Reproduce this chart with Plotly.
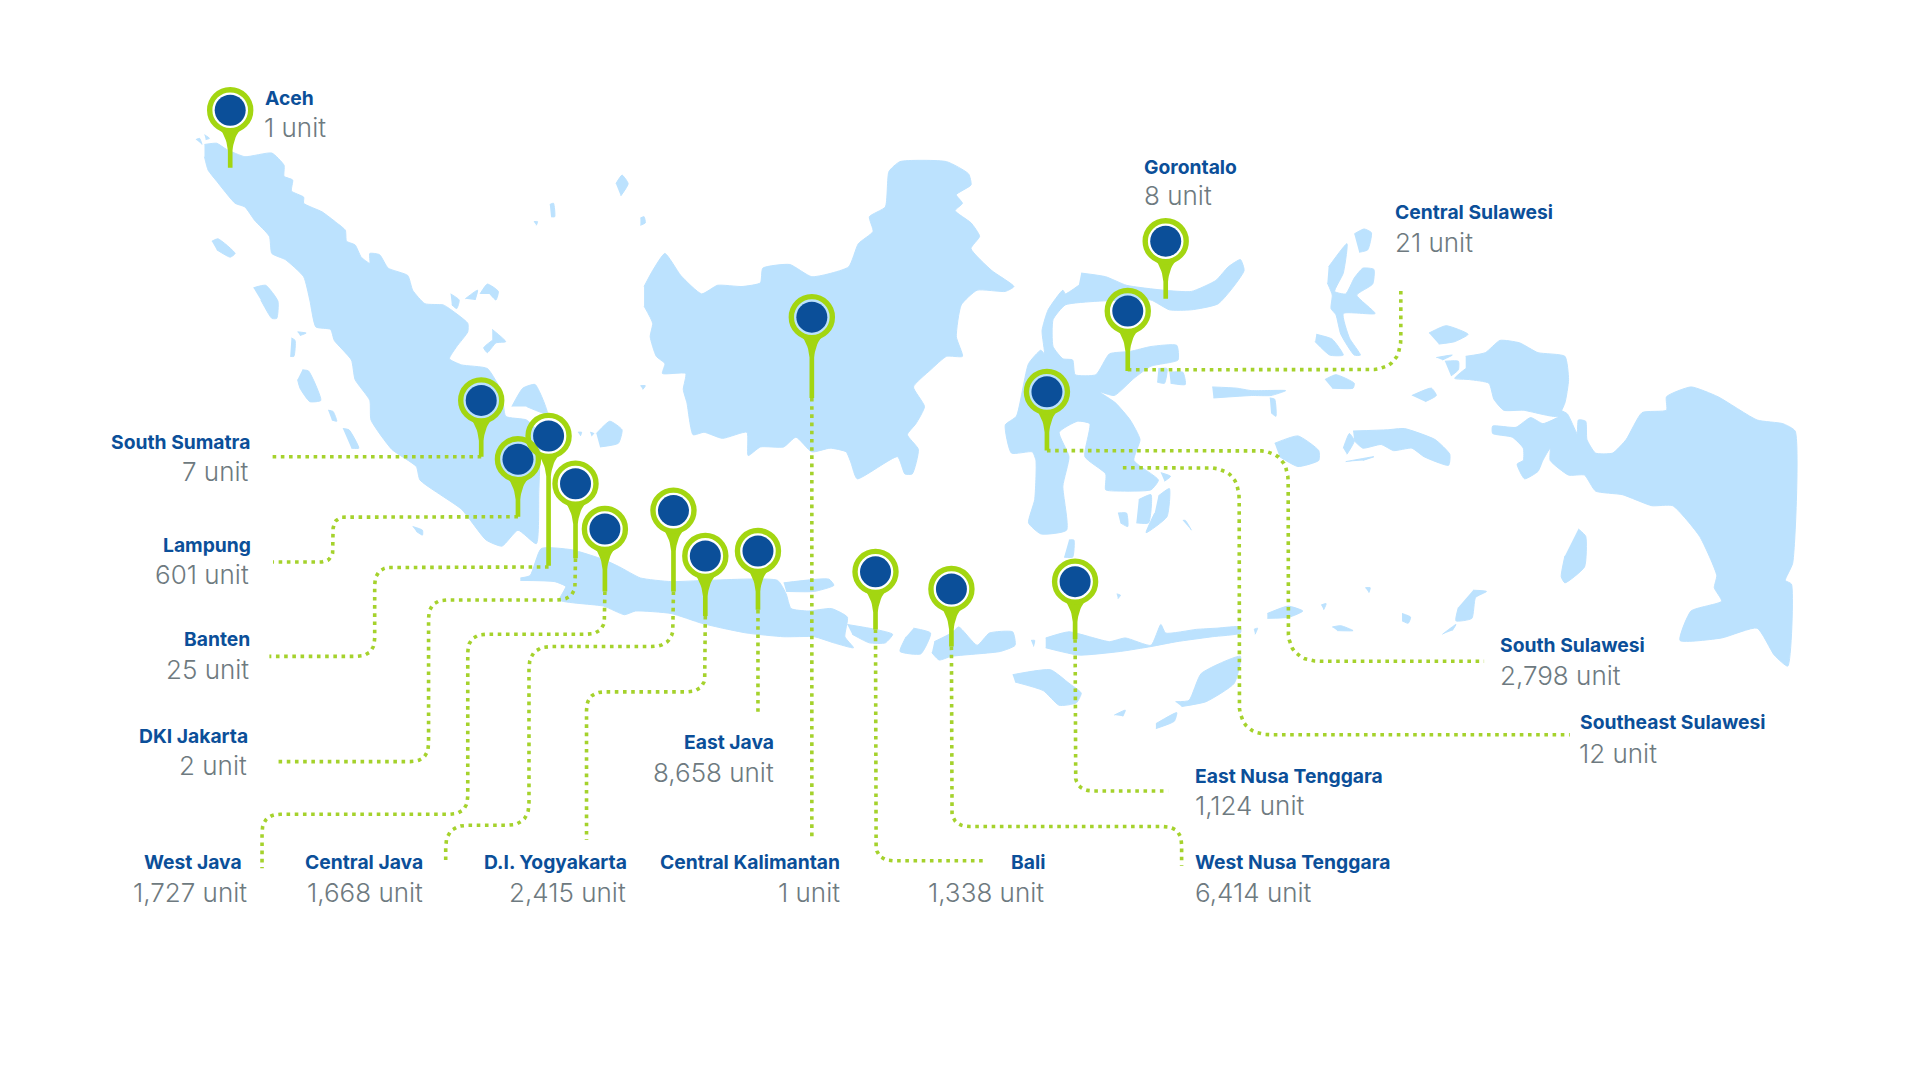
import numpy as np
import plotly.graph_objects as go

# picture units: the axes run 0-1568 by 882-0 and fill the whole page
LAND = "#bce2fe"
PIN_GREEN = "#a3d611"
DOT_GREEN = "#a5d22c"
BLUE = "#0b4f99"
GREY = "#6e7a80"

provinces = ["Aceh", "South Sumatra", "Lampung", "Banten", "DKI Jakarta", "West Java",
             "Central Java", "D.I. Yogyakarta", "East Java", "Central Kalimantan", "Bali",
             "West Nusa Tenggara", "East Nusa Tenggara", "South Sulawesi",
             "Southeast Sulawesi", "Central Sulawesi", "Gorontalo"]
units = ["1 unit", "7 unit", "601 unit", "25 unit", "2 unit", "1,727 unit", "1,668 unit",
         "2,415 unit", "8,658 unit", "1 unit", "1,338 unit", "6,414 unit", "1,124 unit",
         "2,798 unit", "12 unit", "21 unit", "8 unit"]
name_x = [215, 206, 207, 206, 204, 199, 347, 514, 634, 688, 855, 974, 974, 1223, 1289, 1138, 933]
value_x = [214, 205, 205, 205, 203, 203, 347, 513, 634, 688, 854, 974, 974, 1223, 1288, 1138, 933]
name_y = [80, 361, 445, 522, 601, 704, 704, 704, 606, 704, 704, 704, 634, 527, 590, 173, 136]
value_y = [104, 385, 469, 547, 625, 729, 729, 729, 631, 729, 729, 729, 658, 552, 615, 198, 160]
label_side = ["left", "right", "right", "right", "right", "right", "right", "right", "right",
              "right", "right", "left", "left", "left", "left", "left", "left"]

# Southeast Sulawesi has no pin of its own in the picture, so None here
pin_x = [188, 393, 423, 448, 470, 494, 550, 576, 619, 663, 715, 777, 878, 855, None, 921, 952]
pin_y = [90, 327, 375, 356, 395, 432, 417, 454, 450, 259, 467, 481, 475, 320, None, 254, 197]
pin_tip = [137, 373, 422, 462, 456, 483, 483, 503, 498, 325, 514, 528, 522, 368, None, 303, 244]

# dotted leaders: corner points, and how round the corners are
leaders = {
    "South Sumatra": ([(393, 373), (221, 373)], 1),
    "Lampung": ([(423, 422), (272, 422), (272, 459), (223, 459)], 11),
    "Banten": ([(448, 463), (306, 463), (306, 536), (220, 536)], 15),
    "DKI Jakarta": ([(470, 456), (470, 490), (350, 490), (350, 622), (224, 622)], 15),
    "West Java": ([(494, 483), (494, 518), (382, 518), (382, 665), (214, 665), (214, 709)], 15),
    "Central Java": ([(550, 483), (550, 528), (432, 528), (432, 674), (364, 674), (364, 704)], 18),
    "D.I. Yogyakarta": ([(576, 503), (576, 565), (479, 565), (479, 686)], 15),
    "East Java": ([(619, 498), (619, 583)], 1),
    "Central Kalimantan": ([(663, 325), (663, 686)], 1),
    "Bali": ([(715, 514), (715, 703), (804, 703)], 15),
    "West Nusa Tenggara": ([(777, 528), (777, 675), (965, 675), (965, 707)], 15),
    "East Nusa Tenggara": ([(878, 522), (878, 646), (954, 646)], 15),
    "South Sulawesi": ([(855, 368), (1052, 368), (1052, 540), (1212, 540)], 26),
    "Southeast Sulawesi": ([(917, 382), (1012, 382), (1012, 600), (1282, 600)], 26),
    "Central Sulawesi": ([(921, 302), (1144, 302), (1144, 236)], 26),
}

# coastlines
sumatra = [(167, 118), (177, 117), (185, 122), (200, 128), (222, 125), (232, 135), (232, 144),
           (239, 147), (238, 156), (248, 161), (248, 166), (263, 173), (275, 182), (282, 188),
           (283, 197), (290, 200), (295, 210), (302, 215), (302, 207), (310, 208), (317, 219),
           (333, 225), (337, 237), (347, 248), (362, 249), (367, 252), (382, 264), (382, 271),
           (373, 283), (367, 293), (377, 298), (398, 301), (410, 321), (413, 340), (430, 343),
           (440, 354), (440, 403), (438, 444), (423, 433), (410, 446), (397, 441), (377, 416),
           (343, 392), (340, 381), (320, 367), (303, 343), (302, 327), (290, 310), (287, 294),
           (273, 278), (270, 269), (258, 267), (253, 245), (248, 226), (233, 212), (222, 207),
           (220, 193), (208, 180), (200, 169), (192, 166), (177, 148), (170, 139), (167, 128)]
java = [(425, 472), (433, 470), (442, 448), (467, 449), (493, 457), (506, 463), (523, 472),
        (548, 475), (577, 474), (635, 474), (642, 485), (646, 497), (660, 499), (679, 497),
        (692, 504), (690, 520), (697, 529), (681, 525), (665, 520), (640, 520), (610, 517),
        (590, 513), (573, 509), (548, 501), (519, 499), (510, 502), (493, 495), (457, 490),
        (462, 479), (453, 475), (425, 474)]
borneo = [(526, 234), (533, 221), (543, 207), (556, 225), (573, 240), (586, 233), (606, 234),
          (621, 231), (623, 219), (645, 216), (663, 226), (693, 218), (701, 199), (713, 189),
          (710, 177), (723, 169), (726, 140), (735, 132), (773, 132), (791, 142), (793, 151),
          (781, 159), (786, 166), (780, 172), (793, 182), (800, 193), (793, 203), (810, 221),
          (828, 234), (821, 238), (798, 237), (785, 249), (781, 275), (786, 291), (773, 291),
          (760, 302), (746, 316), (755, 332), (748, 346), (741, 355), (750, 367), (745, 387),
          (739, 387), (733, 373), (700, 391), (695, 378), (691, 369), (678, 366), (663, 369),
          (650, 357), (640, 365), (621, 365), (611, 372), (610, 353), (590, 358), (575, 353),
          (566, 355), (561, 329), (558, 318), (560, 305), (541, 305), (543, 297), (536, 291),
          (531, 275), (533, 264), (526, 250)]
sulawesi = [(883, 223), (903, 226), (920, 233), (950, 237), (973, 238), (993, 229), (1003, 218),
            (1013, 212), (1016, 221), (995, 248), (973, 253), (955, 253), (940, 245), (923, 245),
            (896, 246), (870, 249), (860, 261), (860, 283), (868, 293), (876, 294), (878, 306),
            (895, 306), (906, 289), (923, 287), (940, 283), (961, 282), (962, 294), (940, 299),
            (926, 309), (910, 323), (898, 320), (911, 329), (923, 343), (931, 359), (926, 376),
            (946, 392), (940, 400), (913, 401), (903, 400), (903, 387), (886, 373), (890, 346),
            (880, 344), (865, 353), (873, 373), (868, 397), (871, 433), (850, 436), (840, 427),
            (845, 408), (846, 376), (843, 369), (826, 370), (821, 347), (830, 340), (840, 297),
            (850, 286), (853, 289), (851, 270), (856, 253), (868, 237), (870, 240), (881, 233)]
papua = [(1272, 334), (1280, 338), (1288, 354), (1289, 343), (1295, 344), (1296, 359), (1303, 370),
         (1317, 370), (1328, 359), (1341, 337), (1361, 335), (1361, 324), (1381, 316), (1403, 324),
         (1435, 343), (1456, 346), (1466, 352), (1464, 460), (1458, 474), (1463, 477), (1460, 544),
         (1449, 535), (1435, 513), (1406, 521), (1372, 523), (1381, 499), (1406, 491), (1400, 480),
         (1402, 470), (1388, 438), (1366, 413), (1349, 413), (1325, 404), (1303, 401), (1294, 388),
         (1281, 388), (1266, 376), (1266, 366), (1260, 376), (1256, 385), (1245, 391), (1239, 379),
         (1244, 376), (1244, 366), (1235, 357), (1219, 354), (1219, 348), (1238, 349), (1250, 341),
         (1260, 346), (1272, 341)]
bird_head = [(1197, 291), (1213, 288), (1225, 278), (1241, 280), (1256, 288), (1278, 291), (1281, 310),
             (1278, 329), (1272, 340), (1244, 335), (1228, 335), (1220, 326), (1216, 313), (1200, 310),
             (1188, 309), (1197, 301)]
halmahera = [(1085, 218), (1100, 199), (1097, 223), (1090, 238), (1099, 240), (1106, 227), (1113, 219),
             (1122, 220), (1121, 232), (1108, 241), (1123, 256), (1097, 256), (1102, 276), (1111, 290),
             (1106, 290), (1095, 273), (1091, 257), (1087, 252), (1088, 241), (1084, 231)]
flores = [(854, 521), (873, 516), (906, 524), (919, 521), (940, 527), (948, 510), (952, 517), (977, 514),
          (994, 513), (1013, 512), (1013, 517), (990, 520), (961, 524), (940, 528), (915, 532), (881, 535),
          (854, 529)]
sumbawa = [(763, 524), (777, 517), (783, 512), (798, 527), (808, 517), (827, 516), (829, 527), (817, 532),
           (777, 536), (767, 539), (761, 533)]
seram = [(1105, 352), (1133, 351), (1147, 350), (1172, 359), (1184, 371), (1183, 380), (1163, 373),
         (1153, 366), (1138, 368), (1128, 363), (1113, 366), (1106, 360)]
sula = [(990, 316), (1010, 317), (1022, 319), (1050, 319), (1038, 323), (1022, 323), (991, 325)]

small_islands = [
    [(173, 197), (178, 195), (192, 207), (188, 210), (177, 204)],
    [(207, 235), (217, 233), (227, 246), (226, 260), (222, 260), (213, 245)],
    [(238, 276), (241, 278), (240, 291), (237, 291)],
    [(243, 271), (250, 272), (245, 274)],
    [(247, 302), (252, 303), (262, 327), (253, 328), (245, 317), (243, 310)],
    [(268, 335), (272, 336), (275, 344), (271, 343)],
    [(280, 350), (285, 351), (293, 366), (287, 366)],
    [(160, 114), (163, 113), (165, 118)],
    [(167, 110), (171, 113), (168, 114)],
    [(392, 240), (398, 232), (407, 238), (405, 245), (400, 240)],
    [(368, 240), (375, 245), (373, 252), (369, 249)],
    [(380, 244), (390, 237), (388, 245)],
    [(402, 269), (413, 279), (405, 280), (398, 288), (395, 284), (402, 278)],
    [(418, 332), (427, 317), (437, 314), (447, 338), (430, 332)],
    [(487, 354), (498, 344), (508, 351), (505, 362), (490, 365)],
    [(472, 353), (475, 353), (474, 356)],
    [(482, 353), (485, 354), (483, 356)],
    [(503, 150), (508, 143), (513, 150), (507, 160)],
    [(449, 167), (452, 166), (453, 177), (450, 177)],
    [(436, 181), (439, 181), (438, 184)],
    [(337, 430), (345, 433), (345, 437), (340, 434)],
    [(523, 178), (526, 177), (527, 182), (523, 184)],
    [(523, 315), (527, 315), (525, 318)],
    [(640, 476), (677, 473), (681, 478), (665, 483), (642, 483)],
    [(692, 510), (715, 514), (729, 518), (723, 525), (710, 525), (696, 518)],
    [(746, 513), (760, 517), (752, 534), (735, 532), (740, 520)],
    [(842, 523), (845, 523), (844, 528)],
    [(827, 551), (858, 547), (873, 558), (883, 566), (879, 574), (865, 576), (852, 564), (829, 557)],
    [(960, 573), (971, 572), (981, 550), (1013, 536), (1008, 558), (985, 573), (965, 577)],
    [(944, 591), (961, 582), (959, 589), (944, 595)],
    [(910, 584), (919, 580), (917, 585)],
    [(873, 441), (877, 441), (876, 455), (869, 455)],
    [(912, 485), (915, 486), (913, 489)],
    [(1035, 501), (1052, 495), (1064, 499), (1053, 504), (1035, 505)],
    [(1106, 191), (1114, 187), (1120, 190), (1117, 204), (1110, 206)],
    [(1075, 273), (1088, 277), (1097, 290), (1086, 290), (1074, 279)],
    [(1167, 272), (1181, 266), (1199, 273), (1188, 279), (1175, 281)],
    [(1180, 295), (1191, 295), (1191, 302), (1185, 307)],
    [(1173, 292), (1186, 290), (1178, 294)],
    [(1289, 432), (1295, 438), (1294, 463), (1278, 476), (1275, 471), (1278, 454)],
    [(1203, 482), (1214, 483), (1205, 488), (1202, 505), (1189, 507), (1191, 496)],
    [(1178, 518), (1189, 510), (1186, 515)],
    [(1145, 501), (1152, 504), (1150, 509), (1145, 507)],
    [(1115, 480), (1119, 480), (1118, 484)],
    [(1079, 494), (1083, 493), (1081, 498)],
    [(1088, 512), (1095, 511), (1105, 515), (1092, 515)],
    [(1024, 514), (1027, 513), (1025, 518)],
    [(1097, 366), (1102, 354), (1106, 360), (1100, 371)],
    [(1099, 377), (1122, 373), (1113, 376)],
    [(1041, 362), (1060, 356), (1077, 368), (1077, 376), (1060, 381), (1045, 373)],
    [(1082, 310), (1091, 306), (1106, 313), (1105, 317), (1088, 317)],
    [(1153, 323), (1169, 317), (1173, 323), (1164, 328)],
    [(1037, 325), (1041, 326), (1042, 340), (1038, 337)],
    [(913, 419), (920, 419), (921, 430), (915, 427)],
    [(930, 408), (940, 404), (938, 427), (928, 427)],
    [(946, 405), (955, 399), (953, 422), (936, 435), (943, 419)],
    [(948, 386), (956, 389), (951, 393)],
    [(946, 301), (953, 301), (951, 313), (945, 312)],
    [(955, 304), (966, 304), (968, 314), (956, 313)],
    [(966, 425), (968, 425), (973, 433)],
]


def rounded(points, radius):
    # replace each corner of a leader by a quarter-ish curve
    xs, ys = [points[0][0]], [points[0][1]]
    for before, corner, after in zip(points, points[1:], points[2:]):
        p0, p1, p2 = np.array(before, float), np.array(corner, float), np.array(after, float)
        a = p1 + (p0 - p1) / np.linalg.norm(p0 - p1) * radius
        b = p1 + (p2 - p1) / np.linalg.norm(p2 - p1) * radius
        for t in np.linspace(0, 1, 12):
            q = (1 - t) ** 2 * a + 2 * t * (1 - t) * p1 + t ** 2 * b
            xs.append(q[0])
            ys.append(q[1])
    xs.append(points[-1][0])
    ys.append(points[-1][1])
    return xs, ys


def pin_tail(cx, cy, tip):
    # the neck under the ring, narrowing into the stem
    arc = np.radians(np.linspace(-42, 42, 15))
    neck = np.linspace(0, 1, 12)
    rim_x, rim_y = 16.7 * np.sin(arc), 16.7 * np.cos(arc)
    right_x = (1 - neck) ** 2 * rim_x[-1] + 2 * neck * (1 - neck) * 3 + neck ** 2 * 1.9
    right_y = (1 - neck) ** 2 * rim_y[-1] + 2 * neck * (1 - neck) * 20 + neck ** 2 * 33
    xs = list(cx + rim_x) + list(cx + right_x) + [cx + 1.9, cx - 1.9] + list(cx - right_x[::-1])
    ys = list(cy + rim_y) + list(cy + right_y) + [tip, tip] + list(cy + right_y[::-1])
    return xs, ys


fig = go.Figure()

for island in [sumatra, java, borneo, sulawesi, papua, bird_head, halmahera, flores, sumbawa,
               seram, sula] + small_islands:
    fig.add_trace(go.Scatter(
        x=[p[0] for p in island],
        y=[p[1] for p in island],
        mode="lines",
        fill="toself",
        fillcolor=LAND,
        line=dict(color=LAND, width=1, shape="spline", smoothing=0.5),
        hoverinfo="skip",
    ))

for name, (corners, radius) in leaders.items():
    xs, ys = rounded(corners, radius)
    fig.add_trace(go.Scatter(
        x=xs, y=ys, mode="lines",
        line=dict(color=DOT_GREEN, width=3.6, dash="3.6px,4.6px"),
        hoverinfo="skip",
    ))

for name, x, y, tip in zip(provinces, pin_x, pin_y, pin_tip):
    if x is None:
        continue
    xs, ys = pin_tail(x, y, tip)
    fig.add_trace(go.Scatter(
        x=xs, y=ys, mode="lines", fill="toself", fillcolor=PIN_GREEN,
        line=dict(width=0), hoverinfo="skip",
    ))
    fig.add_trace(go.Scatter(
        x=[x], y=[y], mode="markers",
        marker=dict(symbol="circle-open", size=41, color=PIN_GREEN, line=dict(color=PIN_GREEN, width=5.4)),
        hoverinfo="skip",
    ))
    fig.add_trace(go.Scatter(
        x=[x], y=[y], mode="markers",
        marker=dict(size=31, color=BLUE),
        name=name,
    ))

rows = zip(provinces, units, name_x, value_x, name_y, value_y, label_side)
for name, unit, x1, x2, y1, y2, side in rows:
    fig.add_annotation(x=x1, y=y1, text=name, showarrow=False, xanchor=side, yanchor="middle",
                       font=dict(family="Inter", size=19.3, color=BLUE, weight=700))
    fig.add_annotation(x=x2, y=y2, text=unit, showarrow=False, xanchor=side, yanchor="middle",
                       font=dict(family="Inter", size=26, color=GREY, weight=300))

fig.update_layout(
    width=1920,
    height=1080,
    margin=dict(l=0, r=0, t=0, b=0),
    paper_bgcolor="white",
    plot_bgcolor="white",
    showlegend=False,
    xaxis=dict(range=[0, 1568], visible=False),
    yaxis=dict(range=[882, 0], visible=False),
)

fig.write_html("out.html", config=dict(displayModeBar=False),
               post_script="document.body.style.margin='0'")
